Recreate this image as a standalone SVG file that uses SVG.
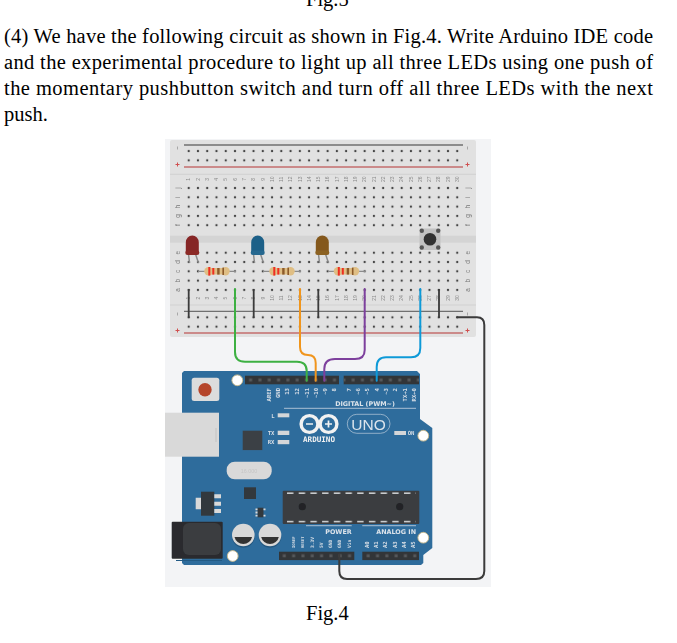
<svg xmlns="http://www.w3.org/2000/svg" width="677" height="643" viewBox="0 0 677 643">
<style>
.p{font-family:"Liberation Serif","Times New Roman",serif;font-size:20.5px;fill:#000}
.bn{font-family:"Liberation Sans",Arial,sans-serif;font-size:5px;fill:#8a8a8a;text-anchor:middle}
.bl{font-family:"Liberation Sans",Arial,sans-serif;font-size:6.5px;fill:#7a7a7a;text-anchor:middle}
.pin{font-family:"DejaVu Sans Mono","Liberation Mono",monospace;font-size:5.6px;fill:#d5dde5;font-weight:bold}
.lab{font-family:"DejaVu Sans","Liberation Sans",sans-serif;font-size:6.4px;fill:#dbe3ea;font-weight:bold}
.w{fill:none;stroke-width:2;stroke-linecap:round}
.k{fill:none;stroke:#3a3a3a;stroke-width:1.8}
.r{fill:#dfbe84}.rd{fill:#ee2e24}.br{fill:#8c5a2a}
.leg{stroke:#8c8c8c;stroke-width:1.5;fill:none}
.hdr{fill:#333537}.led{fill:#d4d6d8}
.gh{fill:#fff;stroke:#c9b98a;stroke-width:.9}
</style>
<defs>
<pattern id="holes" patternUnits="userSpaceOnUse" x="184.07" y="183.35" width="9.26" height="9.3"><circle cx="4.63" cy="4.65" r="1.15" fill="#444"/></pattern>
<pattern id="holes2" patternUnits="userSpaceOnUse" x="184.07" y="248.05" width="9.26" height="9.3"><circle cx="4.63" cy="4.65" r="1.15" fill="#444"/></pattern>
<pattern id="holes3" patternUnits="userSpaceOnUse" x="184.07" y="146.4" width="9.26" height="9.3"><circle cx="4.63" cy="4.65" r="1.15" fill="#444"/></pattern>
<pattern id="holes4" patternUnits="userSpaceOnUse" x="184.07" y="312.7" width="9.26" height="9.3"><circle cx="4.63" cy="4.65" r="1.15" fill="#444"/></pattern>
<pattern id="pinsT" patternUnits="userSpaceOnUse" x="245.9" y="375.7" width="9.32" height="8.6"><rect x="3.2" y="2.8" width="3" height="3" fill="#55585b"/></pattern>
<pattern id="pinsB" patternUnits="userSpaceOnUse" x="279.6" y="551.7" width="9.32" height="8.4"><rect x="3.2" y="2.6" width="3" height="3" fill="#55585b"/></pattern>
<pattern id="dash" patternUnits="userSpaceOnUse" x="286" y="490" width="11.7" height="34"><rect x="1" y="2.4" width="6.4" height="1.6" fill="#c9cbcd"/><rect x="1" y="30.8" width="6.4" height="1.6" fill="#c9cbcd"/></pattern>
<filter id="soft" x="0" y="0" width="1" height="1"><feGaussianBlur stdDeviation="0.55"/></filter>
</defs>
<rect width="677" height="643" fill="#fff"/>
<g id="question">
<text class="p" x="306" y="6">Fig.5</text>
<text class="p" x="4" y="43" textLength="649">(4) We have the following circuit as shown in Fig.4. Write Arduino IDE code</text>
<text class="p" x="4" y="69" textLength="649">and the experimental procedure to light up all three LEDs using one push of</text>
<text class="p" x="4" y="95" textLength="649">the momentary pushbutton switch and turn off all three LEDs with the next</text>
<text class="p" x="4" y="121">push.</text>
</g>
<g id="figure" filter="url(#soft)">
<rect x="165" y="139" width="326" height="448" fill="#f3f4f6"/>
<g id="breadboard">
<rect x="170" y="140" width="306" height="197" rx="2" fill="#e1e1e1"/>
<rect x="170" y="235.7" width="306" height="7" fill="#d4d4d4"/>
<path d="M170 174.3H476M170 305H476" stroke="#cdcdcd" stroke-width=".8"/>
<path d="M184 145H463M184 311.3H463" stroke="#707070" stroke-width="1.3"/>
<path d="M184 167H463M184 333H463" stroke="#c46e6e" stroke-width="1.5"/>
<rect x="184.07" y="146.4" width="277.8" height="18.6" fill="url(#holes3)"/>
<rect x="184.07" y="312.7" width="277.8" height="18.6" fill="url(#holes4)"/>
<rect x="184.07" y="183.35" width="277.8" height="46.5" fill="url(#holes)"/>
<rect x="184.07" y="248.05" width="277.8" height="46.5" fill="url(#holes2)"/>
<path d="M175.5 164.5h4M177.5 162.5v4M465.5 164.5h4M467.5 162.5v4M175.5 330.5h4M177.5 328.5v4M465.5 330.5h4M467.5 328.5v4" stroke="#d05050" stroke-width="1"/>
<path d="M177.5 146.5v3M467.5 146.5v3M177.5 312.5v3M467.5 312.5v3" stroke="#999" stroke-width=".8"/>
<g id="numbers-top">
<text class="bn" transform="matrix(0 -1 1 0 190.4 179.3)">1</text><text class="bn" transform="matrix(0 -1 1 0 199.7 179.3)">2</text><text class="bn" transform="matrix(0 -1 1 0 208.9 179.3)">3</text><text class="bn" transform="matrix(0 -1 1 0 218.2 179.3)">4</text><text class="bn" transform="matrix(0 -1 1 0 227.4 179.3)">5</text><text class="bn" transform="matrix(0 -1 1 0 236.7 179.3)">6</text><text class="bn" transform="matrix(0 -1 1 0 246 179.3)">7</text><text class="bn" transform="matrix(0 -1 1 0 255.2 179.3)">8</text><text class="bn" transform="matrix(0 -1 1 0 264.5 179.3)">9</text><text class="bn" transform="matrix(0 -1 1 0 273.7 179.3)">10</text><text class="bn" transform="matrix(0 -1 1 0 283 179.3)">11</text><text class="bn" transform="matrix(0 -1 1 0 292.3 179.3)">12</text><text class="bn" transform="matrix(0 -1 1 0 301.5 179.3)">13</text><text class="bn" transform="matrix(0 -1 1 0 310.8 179.3)">14</text><text class="bn" transform="matrix(0 -1 1 0 320 179.3)">15</text><text class="bn" transform="matrix(0 -1 1 0 329.3 179.3)">16</text><text class="bn" transform="matrix(0 -1 1 0 338.6 179.3)">17</text><text class="bn" transform="matrix(0 -1 1 0 347.8 179.3)">18</text><text class="bn" transform="matrix(0 -1 1 0 357.1 179.3)">19</text><text class="bn" transform="matrix(0 -1 1 0 366.3 179.3)">20</text><text class="bn" transform="matrix(0 -1 1 0 375.6 179.3)">21</text><text class="bn" transform="matrix(0 -1 1 0 384.9 179.3)">22</text><text class="bn" transform="matrix(0 -1 1 0 394.1 179.3)">23</text><text class="bn" transform="matrix(0 -1 1 0 403.4 179.3)">24</text><text class="bn" transform="matrix(0 -1 1 0 412.6 179.3)">25</text><text class="bn" transform="matrix(0 -1 1 0 421.9 179.3)">26</text><text class="bn" transform="matrix(0 -1 1 0 431.2 179.3)">27</text><text class="bn" transform="matrix(0 -1 1 0 440.4 179.3)">28</text><text class="bn" transform="matrix(0 -1 1 0 449.7 179.3)">29</text><text class="bn" transform="matrix(0 -1 1 0 458.9 179.3)">30</text>
</g>
<g id="numbers-bottom">
<text class="bn" transform="matrix(0 -1 1 0 190.4 298)">1</text><text class="bn" transform="matrix(0 -1 1 0 199.7 298)">2</text><text class="bn" transform="matrix(0 -1 1 0 208.9 298)">3</text><text class="bn" transform="matrix(0 -1 1 0 218.2 298)">4</text><text class="bn" transform="matrix(0 -1 1 0 227.4 298)">5</text><text class="bn" transform="matrix(0 -1 1 0 236.7 298)">6</text><text class="bn" transform="matrix(0 -1 1 0 246 298)">7</text><text class="bn" transform="matrix(0 -1 1 0 255.2 298)">8</text><text class="bn" transform="matrix(0 -1 1 0 264.5 298)">9</text><text class="bn" transform="matrix(0 -1 1 0 273.7 298)">10</text><text class="bn" transform="matrix(0 -1 1 0 283 298)">11</text><text class="bn" transform="matrix(0 -1 1 0 292.3 298)">12</text><text class="bn" transform="matrix(0 -1 1 0 301.5 298)">13</text><text class="bn" transform="matrix(0 -1 1 0 310.8 298)">14</text><text class="bn" transform="matrix(0 -1 1 0 320 298)">15</text><text class="bn" transform="matrix(0 -1 1 0 329.3 298)">16</text><text class="bn" transform="matrix(0 -1 1 0 338.6 298)">17</text><text class="bn" transform="matrix(0 -1 1 0 347.8 298)">18</text><text class="bn" transform="matrix(0 -1 1 0 357.1 298)">19</text><text class="bn" transform="matrix(0 -1 1 0 366.3 298)">20</text><text class="bn" transform="matrix(0 -1 1 0 375.6 298)">21</text><text class="bn" transform="matrix(0 -1 1 0 384.9 298)">22</text><text class="bn" transform="matrix(0 -1 1 0 394.1 298)">23</text><text class="bn" transform="matrix(0 -1 1 0 403.4 298)">24</text><text class="bn" transform="matrix(0 -1 1 0 412.6 298)">25</text><text class="bn" transform="matrix(0 -1 1 0 421.9 298)">26</text><text class="bn" transform="matrix(0 -1 1 0 431.2 298)">27</text><text class="bn" transform="matrix(0 -1 1 0 440.4 298)">28</text><text class="bn" transform="matrix(0 -1 1 0 449.7 298)">29</text><text class="bn" transform="matrix(0 -1 1 0 458.9 298)">30</text>
</g>
<g id="letters">
<text class="bl" transform="matrix(0 -1 1 0 180 188)">j</text><text class="bl" transform="matrix(0 -1 1 0 180 197.3)">i</text><text class="bl" transform="matrix(0 -1 1 0 180 206.7)">h</text><text class="bl" transform="matrix(0 -1 1 0 180 216)">g</text><text class="bl" transform="matrix(0 -1 1 0 180 225)">f</text>
<text class="bl" transform="matrix(0 -1 1 0 180 252.7)">e</text><text class="bl" transform="matrix(0 -1 1 0 180 262)">d</text><text class="bl" transform="matrix(0 -1 1 0 180 271.3)">c</text><text class="bl" transform="matrix(0 -1 1 0 180 280.7)">b</text><text class="bl" transform="matrix(0 -1 1 0 180 290)">a</text>
<text class="bl" transform="matrix(0 -1 1 0 470 188)">j</text><text class="bl" transform="matrix(0 -1 1 0 470 197.3)">i</text><text class="bl" transform="matrix(0 -1 1 0 470 206.7)">h</text><text class="bl" transform="matrix(0 -1 1 0 470 216)">g</text><text class="bl" transform="matrix(0 -1 1 0 470 225)">f</text>
<text class="bl" transform="matrix(0 -1 1 0 470 252.7)">e</text><text class="bl" transform="matrix(0 -1 1 0 470 262)">d</text><text class="bl" transform="matrix(0 -1 1 0 470 271.3)">c</text><text class="bl" transform="matrix(0 -1 1 0 470 280.7)">b</text><text class="bl" transform="matrix(0 -1 1 0 470 290)">a</text>
</g>
</g>
<g id="led-red"><path class="leg" d="M188.5 254L189.5 263M195.5 254L198.5 263"/><path d="M185.8 252V242.5a6.5 7 0 0 1 13 0V252Z" fill="#862626"/><rect x="185.3" y="250.5" width="14" height="4.5" rx="2.2" fill="#8c2c28"/></g>
<g id="led-blue"><path class="leg" d="M253.5 254L254.5 263M260.5 254L263.5 263"/><path d="M251.2 252V242.5a6.5 7 0 0 1 13 0V252Z" fill="#1e6088"/><rect x="250.7" y="250.5" width="14" height="4.5" rx="2.2" fill="#26688f"/></g>
<g id="led-brown"><path class="leg" d="M318.5 254L319.5 263M325.5 254L328.5 263"/><path d="M315.8 252V242.5a6.5 7 0 0 1 13 0V252Z" fill="#84591e"/><rect x="315.3" y="250.5" width="14" height="4.5" rx="2.2" fill="#8c6224"/></g>
<g id="resistor-1"><path d="M198 271.3H236" stroke="#8c8c8c" stroke-width="1.3"/><rect class="r" x="206" y="268" width="22" height="6.6" rx="2"/><ellipse class="r" cx="208.5" cy="271.3" rx="4.2" ry="4.2"/><ellipse class="r" cx="225.5" cy="271.3" rx="4.2" ry="4.2"/><rect class="rd" x="208.3" y="267" width="2" height="8.6"/><rect class="rd" x="212.3" y="268" width="2" height="6.6"/><rect class="br" x="217.2" y="268" width="2.4" height="6.6"/><rect class="br" x="222.4" y="267.6" width="1.6" height="7.4"/></g>
<g id="resistor-2"><path d="M263 271.3H301" stroke="#8c8c8c" stroke-width="1.3"/><rect class="r" x="271" y="268" width="22" height="6.6" rx="2"/><ellipse class="r" cx="273.5" cy="271.3" rx="4.2" ry="4.2"/><ellipse class="r" cx="290.5" cy="271.3" rx="4.2" ry="4.2"/><rect class="rd" x="273.3" y="267" width="2" height="8.6"/><rect class="rd" x="277.3" y="268" width="2" height="6.6"/><rect class="br" x="282.2" y="268" width="2.4" height="6.6"/><rect class="br" x="287.4" y="267.6" width="1.6" height="7.4"/></g>
<g id="resistor-3"><path d="M328 271.3H366" stroke="#8c8c8c" stroke-width="1.3"/><rect class="r" x="335.5" y="268" width="22" height="6.6" rx="2"/><ellipse class="r" cx="338" cy="271.3" rx="4.2" ry="4.2"/><ellipse class="r" cx="355" cy="271.3" rx="4.2" ry="4.2"/><rect class="rd" x="337.8" y="267" width="2" height="8.6"/><rect class="rd" x="341.8" y="268" width="2" height="6.6"/><rect class="br" x="346.7" y="268" width="2.4" height="6.6"/><rect class="br" x="351.9" y="267.6" width="1.6" height="7.4"/></g>
<g id="pushbutton"><rect x="419.5" y="228.5" width="21" height="21.5" rx="1" fill="#c2c2c2"/><circle cx="421.8" cy="230.8" r="2.2" fill="#555"/><circle cx="438.2" cy="230.8" r="2.2" fill="#555"/><circle cx="421.8" cy="247.5" r="2.2" fill="#555"/><circle cx="438.2" cy="247.5" r="2.2" fill="#555"/><circle cx="430" cy="239.2" r="6.3" fill="#333"/></g>
<g id="arduino">
<rect x="190" y="408" width="8.5" height="53" rx="4" fill="#d6d6d6"/>
<path d="M184 371H417L420 374V419L432.3 428V548L423.3 555V563L421 565H184L182 563V373Z" fill="#2f6c9c"/>
<rect x="165" y="412.7" width="54" height="44" fill="#d9d9d9"/><rect x="215.6" y="428" width=".8" height="14" fill="#bdbdbd"/>
<rect x="191.7" y="377.7" width="27.6" height="23.3" rx="2.5" fill="#dcdcdc"/><circle cx="205" cy="389.7" r="6.7" fill="#b5452c"/>
<circle class="gh" cx="237.3" cy="380.3" r="5.4"/><circle class="gh" cx="423.3" cy="435.7" r="5.4"/><circle class="gh" cx="423.3" cy="537.7" r="5.4"/><circle class="gh" cx="232.7" cy="556" r="5.4"/>
<rect class="hdr" x="245" y="375.7" width="94" height="8.6"/><rect x="245" y="375.7" width="94" height="8.6" fill="url(#pinsT)"/>
<rect class="hdr" x="343.7" y="375.7" width="75.3" height="8.6"/><rect x="343.7" y="375.7" width="75.3" height="8.6" fill="url(#pinsT)"/>
<rect class="hdr" x="279" y="551.7" width="75.3" height="8.4"/><rect x="279" y="551.7" width="75.3" height="8.4" fill="url(#pinsB)"/>
<rect class="hdr" x="362.3" y="551.7" width="56.7" height="8.4"/><rect x="362.3" y="551.7" width="56.7" height="8.4" fill="url(#pinsB)"/>
<g id="pin-labels-top" text-anchor="end">
<text class="pin" transform="matrix(0 -1 1 0 271.3 388)">AREF</text><text class="pin" transform="matrix(0 -1 1 0 280 388)">GND</text><text class="pin" transform="matrix(0 -1 1 0 289.3 388)">13</text><text class="pin" transform="matrix(0 -1 1 0 298.7 388)">12</text><text class="pin" transform="matrix(0 -1 1 0 308.7 388)">~11</text><text class="pin" transform="matrix(0 -1 1 0 317.7 388)">~10</text><text class="pin" transform="matrix(0 -1 1 0 327 388)">~9</text><text class="pin" transform="matrix(0 -1 1 0 336.3 388)">8</text><text class="pin" transform="matrix(0 -1 1 0 351 388)">7</text><text class="pin" transform="matrix(0 -1 1 0 360.3 388)">~6</text><text class="pin" transform="matrix(0 -1 1 0 369.3 388)">~5</text><text class="pin" transform="matrix(0 -1 1 0 378.7 388)">4</text><text class="pin" transform="matrix(0 -1 1 0 388 388)">~3</text><text class="pin" transform="matrix(0 -1 1 0 397.3 388)">2</text><text class="pin" transform="matrix(0 -1 1 0 407 388)">TX→1</text><text class="pin" transform="matrix(0 -1 1 0 416.3 388)">RX←0</text>
</g>
<text class="lab" x="365" y="405.5" text-anchor="middle">DIGITAL (PWM~)</text>
<path d="M284 408.3H416M306 525.7H351.7M362.3 525.7H416" stroke="#b9cbdb" stroke-width=".9"/>
<rect class="led" x="277.7" y="413.3" width="11.6" height="4"/><rect class="led" x="277.7" y="430.7" width="11.6" height="4.3"/><rect class="led" x="277.7" y="440" width="11.6" height="4.2"/><rect class="led" x="394.3" y="431" width="11.7" height="4"/>
<text class="pin" x="273" y="417.5" text-anchor="middle">L</text><text class="pin" x="271" y="435" text-anchor="middle">TX</text><text class="pin" x="271" y="444" text-anchor="middle">RX</text><text class="pin" x="411" y="435" text-anchor="middle">ON</text>
<rect x="242.7" y="430.7" width="19.6" height="19.4" fill="#3a3f44"/>
<g id="logo"><circle cx="309.5" cy="424" r="8.4" fill="none" stroke="#f2f2f2" stroke-width="3.4"/><circle cx="328.5" cy="424" r="8.4" fill="none" stroke="#f2f2f2" stroke-width="3.4"/><path d="M306 424h7M325 424h7M328.5 420.5v7" stroke="#f2f2f2" stroke-width="1.7"/></g>
<text x="319" y="442" text-anchor="middle" font-family="'DejaVu Sans Mono','Liberation Mono',monospace" font-size="7.6" font-weight="bold" fill="#f2f2f2">ARDUINO</text>
<rect x="347.3" y="414.3" width="42.7" height="19" rx="9.5" fill="none" stroke="#b9cbdb" stroke-width=".7"/>
<text x="368.5" y="430" text-anchor="middle" font-family="'Liberation Sans',Arial,sans-serif" font-size="15.5" fill="#dbe4ec">UNO</text>
<rect x="226.7" y="461.7" width="45" height="17.6" rx="8" fill="#d9d9d9"/>
<text x="249" y="472.5" text-anchor="middle" font-family="'Liberation Sans',Arial,sans-serif" font-size="5.4" fill="#c6c6c6">16.000</text>
<rect x="201" y="491.7" width="13.3" height="24" fill="#33383c"/>
<path d="M214.3 494.3h6.7v4h-6.7zM214.3 501.7h6.7v4h-6.7zM214.3 509h6.7v4h-6.7zM195.7 497.7h5.3v11.6h-5.3z" fill="#d9d9d9"/>
<rect x="244" y="487.3" width="12" height="11.7" fill="#33383c"/>
<rect x="257.5" y="507.7" width="6" height="9.6" fill="#33383c"/><path d="M255.5 508.5h2v1.8h-2zM255.5 511.6h2v1.8h-2zM255.5 514.7h2v1.8h-2zM263.5 508.5h2v1.8h-2zM263.5 514.7h2v1.8h-2z" fill="#d9d9d9"/>
<rect x="282.7" y="490.7" width="136.6" height="33.3" rx="1" fill="#3a3d40"/><rect x="286" y="490.7" width="130" height="33.3" fill="url(#dash)"/>
<circle cx="302.3" cy="506.7" r="3.6" fill="#212325"/><circle cx="399.7" cy="506.7" r="3.6" fill="#212325"/>
<rect x="171.7" y="521.7" width="51" height="37" rx="1" fill="#2a2c2e"/><rect x="183" y="523" width="38" height="32" rx="6" fill="#3b3d40"/>
<path d="M176 560H222V561H176Z" fill="#245a84"/>
<g id="caps"><circle cx="243.3" cy="536.5" r="11.3" fill="#24577f"/><circle cx="243.3" cy="535" r="11.3" fill="#d8d8d8"/><path d="M234.5 537H252.1A9 9 0 0 1 234.5 537Z" fill="#333"/><circle cx="270" cy="536.5" r="11.3" fill="#24577f"/><circle cx="270" cy="535" r="11.3" fill="#d8d8d8"/><path d="M261.2 537H278.8A9 9 0 0 1 261.2 537Z" fill="#333"/></g>
<text class="lab" x="351.7" y="534" text-anchor="end">POWER</text><text class="lab" x="416" y="534" text-anchor="end">ANALOG IN</text>
<g id="pin-labels-bottom">
<text class="pin" style="font-size:3.8px" transform="matrix(0 -1 1 0 295 548)">IOREF</text><text class="pin" style="font-size:3.8px" transform="matrix(0 -1 1 0 304.3 548)">RESET</text><text class="pin" style="font-size:4.6px" transform="matrix(0 -1 1 0 313.5 548)">3.3V</text><text class="pin" style="font-size:4.6px" transform="matrix(0 -1 1 0 322.7 548)">5V</text><text class="pin" style="font-size:4.6px" transform="matrix(0 -1 1 0 332 548)">GND</text><text class="pin" style="font-size:4.6px" transform="matrix(0 -1 1 0 341.3 548)">GND</text><text class="pin" style="font-size:4.6px" transform="matrix(0 -1 1 0 350.6 548)">Vin</text>
<text class="pin" transform="matrix(0 -1 1 0 368.7 548)">A0</text><text class="pin" transform="matrix(0 -1 1 0 378 548)">A1</text><text class="pin" transform="matrix(0 -1 1 0 387.3 548)">A2</text><text class="pin" transform="matrix(0 -1 1 0 396.5 548)">A3</text><text class="pin" transform="matrix(0 -1 1 0 405.8 548)">A4</text><text class="pin" transform="matrix(0 -1 1 0 415 548)">A5</text>
</g>
</g>
<g id="connectors">
<path class="k" d="M188.7 289V318M253.7 289V318M318.3 289V318M439 289V318"/>
<path class="w" stroke="#3cb043" d="M235 289V352Q235 361.7 245 361.7H297Q306.7 361.7 306.7 371V380.7"/>
<path class="w" stroke="#f0951f" d="M300 289V347Q300 355 308 355Q315.7 355 315.7 363V380.7"/>
<path class="w" stroke="#7d3f9d" d="M364.7 289V350Q364.7 359 355 359H335Q324.3 359 324.3 369V380.7"/>
<path class="w" stroke="#119ad8" d="M420.3 289V348Q420.3 357.3 411 357.3H386Q376.7 357.3 376.7 367V380.7"/>
<path class="w" stroke="#3a3a3a" d="M457 317.3H477Q484.3 317.3 484.3 325V571Q484.3 579 476 579H347Q339.3 579 339.3 571V555"/>
</g>
</g>
<text class="p" x="306" y="620">Fig.4</text>
</svg>
